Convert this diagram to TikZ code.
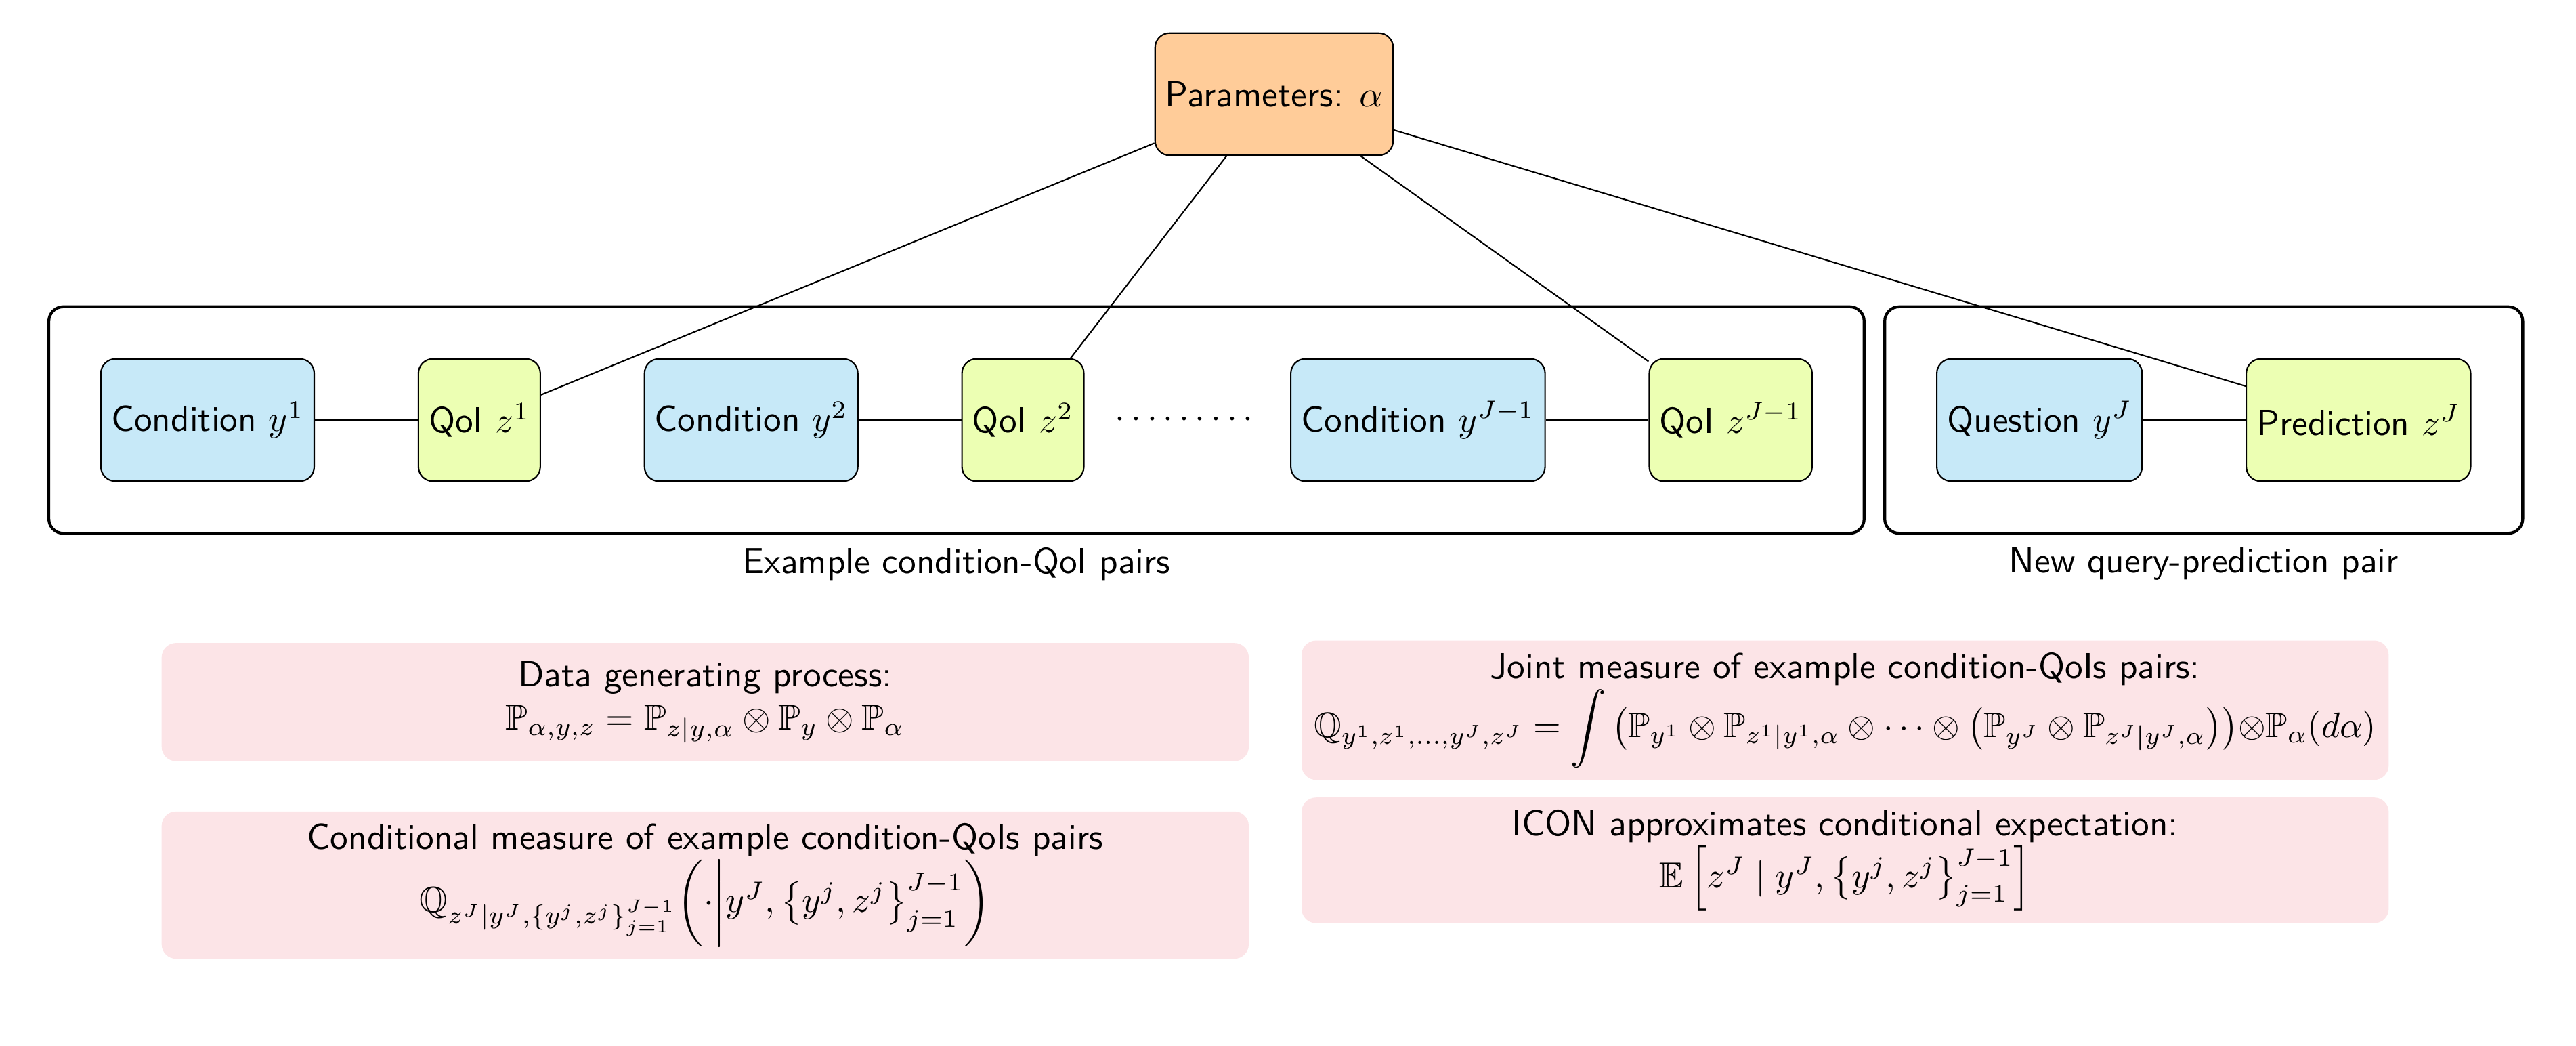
\documentclass[tikz,border=0pt]{standalone}
\usepackage{amsmath, amssymb}
\usepackage{graphicx}
\usepackage{tikz}
\usetikzlibrary{positioning, fit, calc}
\renewcommand{\familydefault}{\sfdefault}

\definecolor{condBlue}{HTML}{C7E9F8}
\definecolor{qoiGreen}{HTML}{ECFFB3}
\definecolor{paramOrange}{HTML}{FFCC99}
\definecolor{measurePink}{HTML}{FCE4E7}

\begin{document}
\begin{tikzpicture}[
    node distance=1cm,
    pairBox/.style={draw, rounded corners, inner xsep=2.85pt, minimum height=1.19cm},
    condNode/.style={pairBox, fill=condBlue},
    qoiNode/.style={pairBox, fill=qoiGreen},
    groupBox/.style={draw, thick, rounded corners, inner sep=0.5cm},
    measureBox/.style={fill=measurePink, rounded corners, align=center, minimum width=10.58cm, minimum height=1.15cm}
    ]
    \useasboundingbox (0, 0) rectangle (25.07, -10.175);

    \node[pairBox, fill=paramOrange] (param) at (12.40, -0.916) {Parameters: $\alpha$};

    \node[condNode, anchor=west] (cond1) at (0.975, -4.086) {Condition $y^1$};
    \node[qoiNode, right=of cond1] (qoi1) {QoI $z^1$};
    \node[condNode, right=of qoi1] (cond2) {Condition $y^2$};
    \node[qoiNode, right=of cond2] (qoi2) {QoI $z^2$};
    \node[condNode, right=2cm of qoi2] (cond3) {Condition $y^{J-1}$};
    \node[qoiNode, right=of cond3] (qoi3) {QoI $z^{J-1}$};
    \node (dots) at ($(qoi2.east)!0.5!(cond3.west)$) {$\cdots\cdots\cdots$};

    \node[condNode, right=1.2cm of qoi3] (query) {Question $y^J$};
    \node[qoiNode, right=of query] (pred) {Prediction $z^J$};

    \node[groupBox, fit=(cond1) (qoi3)] (examples) {};
    \node[groupBox, fit=(query) (pred)] (newPair) {};
    \node[anchor=north] (examplesLabel) at (examples.south) {Example condition-QoI pairs};
    \node[anchor=north] (newPairLabel) at (newPair.south) {New query-prediction pair};

    \draw (cond1) -- (qoi1);
    \draw (cond2) -- (qoi2);
    \draw (cond3) -- (qoi3);
    \draw (query) -- (pred);
    \draw (param) -- (qoi1);
    \draw (param) -- (qoi2);
    \draw (param) -- (qoi3);
    \draw (param) -- (pred);

    \node[measureBox] (dataGen) at (6.863, -6.830) {Data generating process:\\
        $\mathbb{P}_{\alpha,y,z} = \mathbb{P}_{z|y,\alpha} \otimes \mathbb{P}_y \otimes \mathbb{P}_\alpha$};
    \node[measureBox] (jointMeasure) at (17.957, -6.909) {Joint measure of example condition-QoIs pairs:\\
        \resizebox{10.34cm}{!}{$\displaystyle \mathbb{Q}_{y^1,z^1,\dots,y^J,z^J} = \int \left(\mathbb{P}_{y^1} \otimes \mathbb{P}_{z^1|y^1,\alpha} \otimes \cdots \otimes \left(\mathbb{P}_{y^J} \otimes \mathbb{P}_{z^J|y^J,\alpha}\right)\right)\!{\otimes}\mathbb{P}_\alpha(d\alpha)$}};
    \node[measureBox] (condMeasure) at (6.863, -8.610) {Conditional measure of example condition-QoIs pairs\\
        $\mathbb{Q}_{z^J|y^J,\{y^j,z^j\}_{j=1}^{J-1}} \biggl(\cdot\bigg|y^J, \left\{y^j, z^j\right\}_{j=1}^{J-1}\biggr)$};
    \node[measureBox] (iconExpect) at (17.957, -8.369) {ICON approximates conditional expectation:\\
        $\mathbb{E}\left[z^J \mid y^J, \left\{y^j, z^j\right\}_{j=1}^{J-1}\right]$};
\end{tikzpicture}
\end{document}
